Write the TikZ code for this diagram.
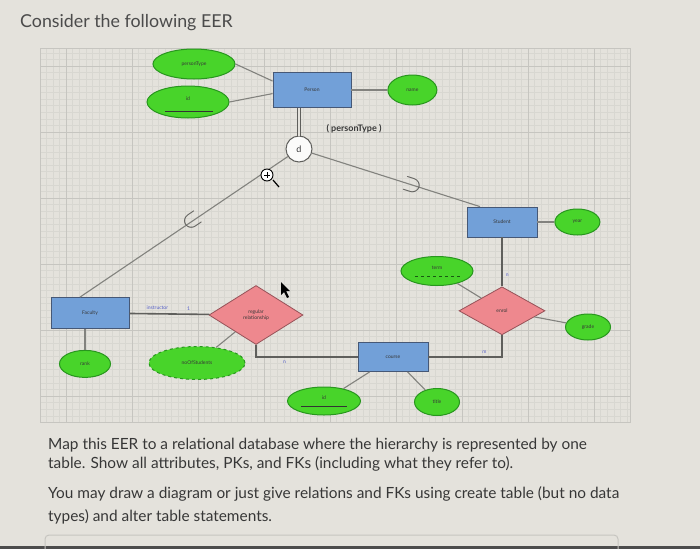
\documentclass[tikz,border=0pt]{standalone}
\usepackage{fontspec}
\setmainfont{Lato}
\usetikzlibrary{shapes.geometric, positioning, calc}

\definecolor{bgpaper}{RGB}{228,226,220}
\definecolor{gridfine}{RGB}{216,215,209}
\definecolor{gridmajor}{RGB}{198,197,192}
\definecolor{attrgreen}{RGB}{72,212,42}
\definecolor{attrline}{RGB}{40,150,30}
\definecolor{entblue}{RGB}{114,160,216}
\definecolor{entline}{RGB}{70,88,118}
\definecolor{relpink}{RGB}{238,136,142}
\definecolor{relline}{RGB}{150,82,88}
\definecolor{linkgray}{RGB}{95,95,92}
\definecolor{attrgray}{RGB}{130,130,126}
\definecolor{labblue}{RGB}{85,95,200}
\definecolor{txtgray}{RGB}{55,55,55}

\tikzset{
  entity/.style={rectangle, draw=entline, fill=entblue, line width=0.8pt, minimum width=78pt, minimum height=31pt, font=\fontsize{5}{6}\selectfont, text=txtgray},
  attrib/.style={ellipse, draw=attrline, fill=attrgreen, line width=1pt, inner sep=0pt, font=\fontsize{5}{6}\selectfont, text=txtgray},
  keyattr/.style={attrib, text depth=6pt},
  relship/.style={diamond, draw=relline, fill=relpink, line width=0.8pt, inner sep=0pt, align=center, font=\fontsize{5}{6}\selectfont, text=txtgray},
  link/.style={draw=linkgray, line width=1.6pt},
  attrlink/.style={draw=attrgray, line width=1.1pt},
  card/.style={font=\fontsize{5}{6}\selectfont, text=labblue, inner sep=1pt},
  subsym/.style={font=\fontsize{30}{30}\selectfont, text=linkgray, inner sep=0pt},
  qtext/.style={anchor=base west, font=\fontsize{15.4}{18}\selectfont, text=txtgray, inner sep=0pt},
}

\begin{document}
\begin{tikzpicture}[x=1pt, y=-1pt]
\useasboundingbox (0,0) rectangle (700,549);
\fill[bgpaper] (0,0) rectangle (700,549);
\fill[black!70] (0,546) rectangle (700,549);

% editor grid
\draw[gridfine, line width=0.3pt, step=6.6pt] (40,48) grid (630,422);
\draw[gridmajor, line width=0.5pt, step=66pt] (40,48) grid (630,422);
\draw[gridmajor, line width=0.5pt] (40,48) rectangle (630,422);

\node[anchor=base west, font=\fontsize{17.8}{20}\selectfont, text=txtgray!90, inner sep=0pt] (ttl) at (20,27) {Consider the following EER};

% superclass
\node[entity, minimum height=35pt] (per) at (312,90) {Person};
\node[attrib, minimum width=82pt, minimum height=30pt] (ptype) at (194,64) {personType};
\node[keyattr, minimum width=82pt, minimum height=32pt] (pid) at (188,102) {id};
\node[attrib, minimum width=49pt, minimum height=30pt, right=36pt of per] (pname) {name};
\node[circle, draw=linkgray, fill=white!85!bgpaper, line width=1pt, minimum size=26pt, inner sep=0pt, font=\fontsize{9}{10}\selectfont, text=txtgray] (disj) at (299,149) {d};
\node[font=\bfseries\fontsize{9}{10}\selectfont, text=txtgray] (disc) at (354,129) {( personType )};

% subclasses
\node[entity, minimum width=70pt, minimum height=30pt] (stu) at (502,222) {Student};
\node[attrib, minimum width=45pt, minimum height=26pt, right=17pt of stu] (year) {year};
\node[relship, minimum width=86pt, minimum height=48pt, below=49pt of stu] (enrol) {enrol};
\node[keyattr, minimum width=72pt, minimum height=29pt] (term) at (437,271) {term};
\node[attrib, minimum width=45pt, minimum height=26pt] (grade) at (588,327) {grade};
\node[entity, minimum width=70pt, minimum height=29pt] (crs) at (393,357) {course};
\node[attrib, minimum width=45pt, minimum height=27pt] (title) at (437,402) {title};
\node[keyattr, minimum width=73pt, minimum height=28pt] (cid) at (324,401) {id};
\node[entity] (fac) at (90,313) {Faculty};
\node[attrib, minimum width=51pt, minimum height=27pt, below=21pt of fac, xshift=-5pt] (rank) {rank};
\node[relship, minimum width=94pt, minimum height=59pt] (reg) at (256,315) {regular\\relationship};
\node[attrib, dashed, minimum width=96pt, minimum height=33pt] (nos) at (197,363) {noOfStudents};

% key underlines
\draw[black!80, line width=0.8pt] ([shift={(-23,9)}]pid.center) -- ([shift={(25,9)}]pid.center);
\draw[black!80, line width=0.8pt] ([shift={(-23,5)}]cid.center) -- ([shift={(23,5)}]cid.center);
\draw[attrline!60!black, line width=0.8pt, dashed] ([shift={(-22,5)}]term.center) -- ([shift={(24,5)}]term.center);

% connectors
\draw[attrlink] (ptype.east) -- ($(per.north west)!0.25!(per.south west)$);
\draw[attrlink] (pid.east) -- ($(per.north west)!0.6!(per.south west)$);
\draw[attrlink] (per) -- (pname);
\draw[draw=linkgray, line width=0.9pt, double=bgpaper, double distance=2.4pt] (per.south -| disj) -- (disj.north);
\draw[attrlink] (disj) -- ([xshift=-10pt]fac.north) node[subsym, pos=0.46, sloped] {$\subset$};
\draw[attrlink] (disj) -- ([xshift=-22pt]stu.north) node[subsym, pos=0.6, sloped] {$\supset$};
\draw[attrlink] (stu) -- (year);
\draw[link] (stu) -- (enrol) node[card, pos=0.78, right=2pt] {n};
\draw[attrlink] (term) -- (enrol);
\draw[attrlink] (enrol) -- (grade);
\draw[link] (enrol.south) |- (crs.east) node[card, pos=0.62, above=2pt] {m};
\draw[attrlink] (crs) -- (title);
\draw[attrlink] (crs) -- (cid);
\draw[link] (fac) -- (reg) node[card, pos=0.35, above=2pt] {instructor} node[card, pos=0.74, above=2pt] {1};
\draw[attrlink] (fac.south -| rank) -- (rank);
\draw[attrlink] (reg) -- (nos);
\draw[link] (reg.south) |- (crs.west) node[card, pos=0.64, below=2pt] {n};

% screen cursors
\draw[black, line width=1.2pt] (273,180) -- (279,187);
\draw[black, fill=white, line width=0.9pt] (267,175) circle (6);
\draw[black, line width=1pt] (264,175) -- (270,175) (267,172) -- (267,178);
\fill[black] (281,282) -- (281,295) -- (284,292) -- (287,298) -- (289,297) -- (286,291) -- (290,291) -- cycle;

% question text
\node[qtext] (q1) at (48,449) {Map this EER to a relational database where the hierarchy is represented by one};
\node[qtext] (q2) at (48,468) {table. Show all attributes, PKs, and FKs (including what they refer to).};
\node[qtext] (q3) at (48,498) {You may draw a diagram or just give relations and FKs using create table (but no data};
\node[qtext] (q4) at (48,521) {types) and alter table statements.};
\draw[gridmajor, line width=1pt, rounded corners=4pt] (45,549) -- (45,535) -- (618,535) -- (618,549);
\end{tikzpicture}
\end{document}
